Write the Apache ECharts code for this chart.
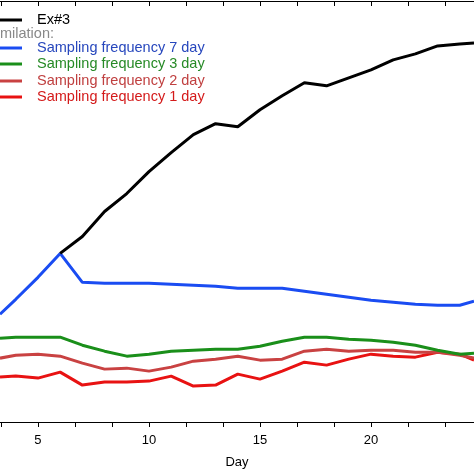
<!DOCTYPE html><html><head><meta charset="utf-8">
<script src="https://cdn.jsdelivr.net/npm/echarts@6/dist/echarts.min.js"></script>
<style>html,body{margin:0;padding:0;background:#fff}#c{width:474px;height:474px}</style></head>
<body><div id="c"></div><script>
const days = [3.29,4,5,6,7,8,9,10,11,12,13,14,15,16,17,18,19,20,21,22,23,24,24.64];
const ex3 = [null,null,null,254,237,212,194,172,153,135,124,127,110,96,83,86,78,70,60,54,46,44,43];
const f7 = [315,300,278,254,283,284,284,284,285,286,287,289,289,289,292,295,298,301,303,305,306,306,302];
const f3 = [339,338,338,338,346,352,357,355,352,351,350,350,347,342,338,338,340,341,343,346,351,355,354];
const f2 = [359,356,355,357,364,370,369,372,368,362,360,357,361,360,352,350,352,351,351,353,353,356,359];
const f1 = [378,377,379,373,386,383,383,382,377,387,386,375,380,372,363,366,360,355,357,358,353,355,361];
const xLabels = [5,10,15,20];
const xTicks = [3.333,5,6.667,8.333,10,11.667,13.333,15,16.667,18.333,20,21.667,23.333];
const names = ['Ex#3','Sampling frequency 7 day','Sampling frequency 3 day','Sampling frequency 2 day','Sampling frequency 1 day'];
const lineCols = ['#000000','#1a4cf2','#1a8f1a','#c94242','#e81212'];
const textCols = ['#000000','#2747bd','#268a26','#c04040','#d41a1a'];
const all = [ex3,f7,f3,f2,f1];
const ch = echarts.init(document.getElementById('c'));
const legY = [20,48,64,81,97];
const g = [];
names.forEach((n,i)=>{
  g.push({type:'line',shape:{x1:0,y1:legY[i],x2:22,y2:legY[i]},style:{stroke:lineCols[i],lineWidth:3}});
  g.push({type:'text',x:37,y:legY[i],style:{text:n,fill:textCols[i],font:'14.5px "Liberation Sans", Arial',verticalAlign:'middle'}});
});
g.push({type:'text',x:0,y:34,style:{text:'milation:',fill:'#888',font:'14.5px "Liberation Sans", Arial',verticalAlign:'middle'}});
ch.setOption({
  animation:false,
  grid:{left:0,right:0,top:1,bottom:51},
  xAxis:[{type:'value',min:3.29,max:24.64,position:'bottom',
    axisLine:{lineStyle:{color:'#000',width:1}},
    axisTick:{show:true,length:5,customValues:xTicks,lineStyle:{color:'#000'}},
    axisLabel:{color:'#000',fontSize:13,fontFamily:'Liberation Sans',margin:12,customValues:xLabels},
    splitLine:{show:false},name:'Day',nameLocation:'middle',nameGap:34,
    nameTextStyle:{color:'#000',fontSize:13,fontFamily:'Liberation Sans'}},
   {type:'value',min:3.29,max:24.64,position:'top',
    axisLine:{lineStyle:{color:'#000'}},
    axisTick:{show:true,inside:true,length:5,customValues:xTicks,lineStyle:{color:'#000'}},
    axisLabel:{show:false},splitLine:{show:false}}],
  yAxis:{type:'value',inverse:true,min:1,max:423,show:false},
  series: all.map((d,i)=>({type:'line',name:names[i],showSymbol:false,
    data:days.map((x,j)=>[x,d[j]]),lineStyle:{color:lineCols[i],width:3},z:10-i})),
  graphic:g
});
</script></body></html>
